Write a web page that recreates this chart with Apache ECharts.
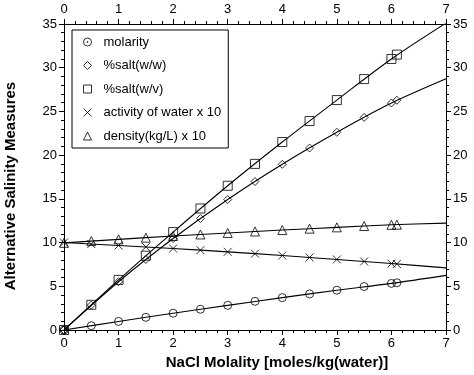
<!DOCTYPE html>
<html>
<head>
<meta charset="utf-8">
<script src="https://cdn.jsdelivr.net/npm/echarts@6/dist/echarts.min.js"></script>
<style>
html,body{margin:0;padding:0;background:#fff;}
#chart{width:474px;height:375px;}
</style>
</head>
<body>
<div id="chart"></div>
<script>
// Measured sample points (NaCl molality)
var molality = [0, 0.5, 1, 1.5, 2, 2.5, 3, 3.5, 4, 4.5, 5, 5.5, 6, 6.1];
var molarity = [0, 0.49, 0.98, 1.45, 1.92, 2.37, 2.82, 3.28, 3.70, 4.12, 4.55, 4.97, 5.33, 5.40];
var saltWW = [0, 2.84, 5.52, 8.06, 10.46, 12.75, 14.92, 16.98, 18.95, 20.82, 22.61, 24.32, 25.96, 26.28];
var saltWV = [0, 2.88, 5.73, 8.5, 11.2, 13.9, 16.5, 19.0, 21.5, 23.9, 26.3, 28.7, 31.0, 31.5];
var activity10 = [10, 9.83, 9.67, 9.5, 9.32, 9.13, 8.94, 8.73, 8.52, 8.30, 8.07, 7.84, 7.60, 7.55];
var density10 = [9.97, 10.17, 10.37, 10.56, 10.75, 10.93, 11.10, 11.27, 11.43, 11.59, 11.74, 11.89, 12.03, 12.05];

// Fitted curves read at integer molality
var fitX = [0, 1, 2, 3, 4, 5, 6, 7];
var molarityFit = [0, 0.98, 1.92, 2.82, 3.70, 4.55, 5.33, 6.25];
var saltWWFit = [0, 5.52, 10.46, 14.92, 18.95, 22.61, 25.96, 28.74];
var saltWVFit = [0, 5.73, 11.2, 16.5, 21.5, 26.3, 31.0, 35.1];
var activity10Fit = [10, 9.67, 9.32, 8.94, 8.52, 8.07, 7.60, 7.11];
var density10Fit = [9.97, 10.37, 10.75, 11.10, 11.43, 11.74, 12.03, 12.22];

var seriesNames = ['molarity', '%salt(w/w)', '%salt(w/v)', 'activity of water x 10', 'density(kg/L) x 10'];
var xTicks = [0, 1, 2, 3, 4, 5, 6, 7];
var yTicks = [0, 5, 10, 15, 20, 25, 30, 35];

var FONT = "'Liberation Sans', Arial, Helvetica, sans-serif";
var SYM_X = 'path://M0,0L10,10M0,10L10,0';
var SYM_CIRCLE_DOT = 'path://M10,5A5,5 0 1 1 0,5A5,5 0 1 1 10,5ZM5.7,5A0.7,0.7 0 1 1 4.3,5A0.7,0.7 0 1 1 5.7,5Z';

function pairs(xs, ys) { return xs.map(function (x, i) { return [x, ys[i]]; }); }

var pointSets = [molarity, saltWW, saltWV, activity10, density10];
var fitSets = [molarityFit, saltWWFit, saltWVFit, activity10Fit, density10Fit];
var symbols = ['circle', 'diamond', 'rect', SYM_X, 'triangle'];
var legendIcons = [SYM_CIRCLE_DOT, 'diamond', 'rect', SYM_X, 'triangle'];
var sizes = [8, 8, 9, 8, 9];

var series = [];
fitSets.forEach(function (f) {
  series.push({
    type: 'line', data: pairs(fitX, f), smooth: 0.3, showSymbol: false, symbol: 'none',
    lineStyle: { color: '#000', width: 1.1 }, silent: true, z: 1, clip: true
  });
});
pointSets.forEach(function (p, i) {
  series.push({
    name: seriesNames[i], type: 'scatter', data: pairs(molality, p),
    symbol: symbols[i], symbolSize: sizes[i], z: 3,
    itemStyle: { color: 'rgba(0,0,0,0)', borderColor: '#000', borderWidth: 1 }
  });
});

function xAxisCfg(pos) {
  return {
    type: 'value', position: pos, min: 0, max: 7, interval: 1,
    axisLine: { show: true, onZero: false, lineStyle: { color: '#000', width: 1 } },
    axisTick: { show: true, inside: false, length: 5, lineStyle: { color: '#000' } },
    minorTick: { show: true, splitNumber: 5, length: 3, lineStyle: { color: '#000' } },
    splitLine: { show: false },
    axisLabel: { color: '#000', fontSize: 13, fontFamily: FONT, margin: pos === 'top' ? 8 : 7 }
  };
}
function yAxisCfg(pos) {
  return {
    type: 'value', position: pos, min: 0, max: 35, interval: 5,
    axisLine: { show: true, onZero: false, lineStyle: { color: '#000', width: 1 } },
    axisTick: { show: true, inside: false, length: 5, lineStyle: { color: '#000' } },
    minorTick: { show: true, splitNumber: 5, length: 3, lineStyle: { color: '#000' } },
    splitLine: { show: false },
    axisLabel: { color: '#000', fontSize: 13, fontFamily: FONT, margin: 7 }
  };
}

var xb = xAxisCfg('bottom');
xb.name = 'NaCl Molality [moles/kg(water)]';
xb.nameLocation = 'middle';
xb.nameGap = 23;
xb.nameTextStyle = { fontSize: 15, fontWeight: 'bold', fontFamily: FONT, color: '#000', padding: [0, 0, 0, 44] };
var xt = xAxisCfg('top');
var yl = yAxisCfg('left');
yl.name = 'Alternative Salinity Measures';
yl.nameLocation = 'middle';
yl.nameGap = 46;
yl.nameTextStyle = { fontSize: 15, fontWeight: 'bold', fontFamily: FONT, color: '#000', padding: [0, 18, 0, 0] };
var yr = yAxisCfg('right');

var legendData = seriesNames.map(function (n, i) {
  return { name: n, icon: legendIcons[i] };
});

var option = {
  backgroundColor: '#fff',
  animation: false,
  grid: { left: 64, right: 28, top: 24, bottom: 45, containLabel: false, outerBoundsMode: 'none' },
  xAxis: [xb, xt],
  yAxis: [yl, yr],
  legend: {
    data: legendData, orient: 'vertical', left: 72, top: 30,
    padding: [4, 7, 4, 11], itemGap: 7.5, itemWidth: 8, itemHeight: 8,
    symbolKeepAspect: true,
    backgroundColor: '#fff', borderColor: '#000', borderWidth: 1,
    itemStyle: { borderWidth: 1, borderColor: '#000', color: 'rgba(0,0,0,0)' },
    textStyle: { color: '#000', fontSize: 13, fontFamily: FONT, lineHeight: 16, padding: [0, 0, 0, 7] },
    selectedMode: false
  },
  series: series
};

var chart = echarts.init(document.getElementById('chart'), null, { renderer: 'canvas' });
chart.setOption(option);
</script>
</body>
</html>
